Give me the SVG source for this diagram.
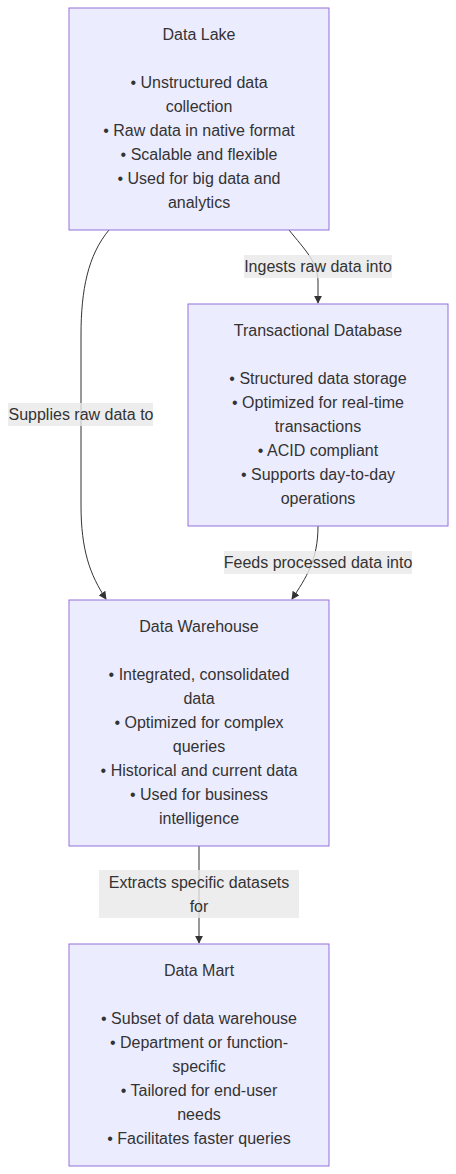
<svg xmlns="http://www.w3.org/2000/svg" width="456" height="1174" viewBox="0 0 456 1174">
<defs>
<marker id="arrow" viewBox="0 0 10 10" refX="9" refY="5" markerWidth="8" markerHeight="8" markerUnits="userSpaceOnUse" orient="auto">
<path d="M0,0 L10,5 L0,10 z" fill="#333"/>
</marker>
</defs>
<style>
.node rect{fill:#ECECFF;stroke:#9370DB;stroke-width:1}
text{font-family:"Liberation Sans",Arial,sans-serif;font-size:16px;fill:#333;text-anchor:middle}
.edge{fill:none;stroke:#333;stroke-width:1;marker-end:url(#arrow)}
.lbl{fill:rgb(232,232,232);fill-opacity:0.8}
</style>
<rect width="456" height="1174" fill="#fff"/>
<g id="connectors">
<path class="edge" d="M289,230 C305,250 318,262 318,282 L318,303"/>
<path class="edge" d="M109,230 C88,255 81,290 81,335 L81,505 C81,550 90,575 106,599"/>
<path class="edge" d="M318,526 C318,560 306,578 292,599"/>
<path class="edge" d="M199,846 L199,943"/>
<rect class="lbl" x="244" y="255" width="148" height="23"/>
<text x="318" y="272">Ingests raw data into</text>
<rect class="lbl" x="8" y="403" width="145" height="23"/>
<text x="81" y="420">Supplies raw data to</text>
<rect class="lbl" x="224" y="551" width="188" height="23"/>
<text x="318" y="568">Feeds processed data into</text>
<rect class="lbl" x="99" y="870" width="200" height="48"/>
<text x="199" y="888">Extracts specific datasets</text>
<text x="199" y="912">for</text>
</g>
<g id="datalake" class="node">
<rect x="69" y="8" width="260" height="222"/>
<text x="199" y="40">Data Lake</text>
<text x="199" y="88">• Unstructured data</text>
<text x="199" y="112">collection</text>
<text x="199" y="136">• Raw data in native format</text>
<text x="199" y="160">• Scalable and flexible</text>
<text x="199" y="184">• Used for big data and</text>
<text x="199" y="208">analytics</text>
</g>
<g id="transactional" class="node">
<rect x="188" y="304" width="260" height="222"/>
<text x="318" y="336">Transactional Database</text>
<text x="318" y="384">• Structured data storage</text>
<text x="318" y="408">• Optimized for real-time</text>
<text x="318" y="432">transactions</text>
<text x="318" y="456">• ACID compliant</text>
<text x="318" y="480">• Supports day-to-day</text>
<text x="318" y="504">operations</text>
</g>
<g id="warehouse" class="node">
<rect x="69" y="600" width="260" height="246"/>
<text x="199" y="632">Data Warehouse</text>
<text x="199" y="680">• Integrated, consolidated</text>
<text x="199" y="704">data</text>
<text x="199" y="728">• Optimized for complex</text>
<text x="199" y="752">queries</text>
<text x="199" y="776">• Historical and current data</text>
<text x="199" y="800">• Used for business</text>
<text x="199" y="824">intelligence</text>
</g>
<g id="datamart" class="node">
<rect x="69" y="944" width="260" height="222"/>
<text x="199" y="976">Data Mart</text>
<text x="199" y="1024">• Subset of data warehouse</text>
<text x="199" y="1048">• Department or function-</text>
<text x="199" y="1072">specific</text>
<text x="199" y="1096">• Tailored for end-user</text>
<text x="199" y="1120">needs</text>
<text x="199" y="1144">• Facilitates faster queries</text>
</g>
</svg>
